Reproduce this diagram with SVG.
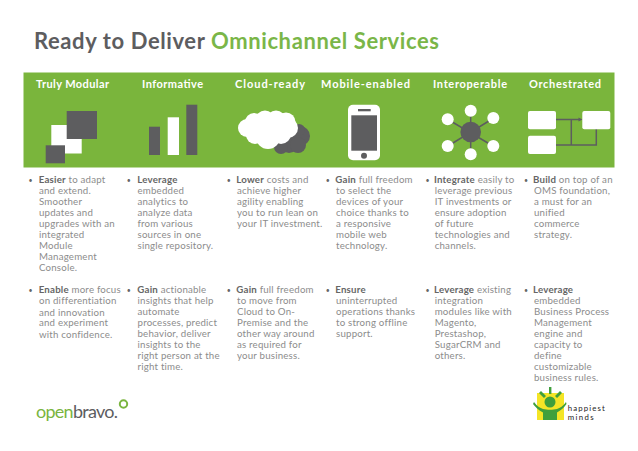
<svg xmlns="http://www.w3.org/2000/svg" width="638" height="451" viewBox="0 0 638 451">
<style>
text{font-family:"Lato","Liberation Sans",sans-serif}
.t{font-size:22px;font-weight:700}
.h{font-size:11px;font-weight:700;fill:#fff;text-anchor:middle}
.b{font-size:9.7px;fill:#8c8c8c;letter-spacing:.2px}
.b tspan{font-weight:700;fill:#666}
.u{font-size:7px;fill:#666}
.d{fill:#5d5d5f}.w{fill:#fff}
.l{stroke:#5d5d5f;stroke-width:1.5;fill:none}
</style>
<rect width="638" height="451" fill="#fff"/>
<text class="t" x="34" y="49.300" fill="#5d5d5f" textLength="405">Ready to Deliver <tspan fill="#7ab648">Omnichannel Services</tspan></text>
<rect id="band" x="23.500" y="72.500" width="591" height="95" fill="#7ab53c"/>
<g id="modular"><text class="h" x="72.500" y="87.500" textLength="73">Truly Modular</text><rect class="w" x="51.300" y="125" width="30.400" height="28.500"/><rect class="d" x="66.700" y="111" width="30.300" height="28"/><rect class="d" x="45.700" y="145.300" width="19.300" height="18"/></g>
<g id="informative"><text class="h" x="172.500" y="87.500" textLength="61">Informative</text><rect class="d" x="149" y="126.700" width="11" height="28.300"/><rect class="w" x="167.700" y="117.300" width="11.300" height="37.700"/><rect class="d" x="186.300" y="104.700" width="11" height="50.300"/></g>
<g id="cloud"><text class="h" x="270" y="87.500" textLength="70">Cloud-ready</text><g class="d"><circle cx="289" cy="143" r="10"/><circle cx="300" cy="136" r="10"/><circle cx="281" cy="147" r="7"/><circle cx="298" cy="145" r="8"/><circle cx="299" cy="130" r="6"/></g><g class="w"><circle cx="247" cy="128" r="9"/><circle cx="254" cy="122" r="9"/><circle cx="265" cy="120" r="9.500"/><circle cx="276" cy="120" r="9.500"/><circle cx="286" cy="122" r="9.500"/><circle cx="288" cy="128" r="10"/><circle cx="281" cy="134" r="10"/><circle cx="268" cy="137" r="12"/><circle cx="255" cy="135" r="9"/></g></g>
<g id="mobile"><text class="h" x="365.500" y="87.500" textLength="89">Mobile-enabled</text><rect class="w" x="348" y="104.700" width="32" height="55.600" rx="5"/><rect class="d" x="351.300" y="115.300" width="25.700" height="35.400"/><rect class="d" x="358" y="109" width="12.700" height="2.300"/><circle class="d" cx="364" cy="155.700" r="3"/></g>
<g id="interoperable"><text class="h" x="470" y="87.500" textLength="74">Interoperable</text><path class="l" d="M470.700 110V154M448 119.500L493 146M493 118.500L448 146"/><circle class="d" cx="470.700" cy="132" r="10.300"/><g class="w"><circle cx="470.700" cy="110.700" r="6"/><circle cx="470.700" cy="154.300" r="6"/><circle cx="447.700" cy="119.300" r="6"/><circle cx="493.300" cy="118" r="6"/><circle cx="447.700" cy="146" r="6"/><circle cx="493.300" cy="146" r="6"/></g></g>
<g id="orchestrated"><text class="h" x="565" y="87.500" textLength="72">Orchestrated</text><path class="l" d="M556 119.500H579M571.300 119.500V145M556 145H596.300V129"/><path class="d" d="M582.500 119.500l-4-2v4z"/><rect class="w" x="528" y="111" width="28" height="18.300" rx="2"/><rect class="w" x="528" y="135.700" width="28" height="18.300" rx="2"/><rect class="w" x="582.300" y="111" width="28" height="18.300" rx="2"/></g>
<g id="text-1">
<text class="u" x="28.400" y="183">•</text><text class="b" x="38.700" y="183"><tspan>Easier</tspan> to adapt</text><text class="b" x="39" y="194">and extend.</text><text class="b" x="39" y="205">Smoother</text><text class="b" x="39" y="216">updates and</text><text class="b" x="39" y="227">upgrades with an</text><text class="b" x="39" y="238">integrated</text><text class="b" x="39" y="249">Module</text><text class="b" x="39" y="260">Management</text><text class="b" x="39" y="271">Console.</text>
<text class="u" x="28.400" y="293">•</text><text class="b" x="38.700" y="293"><tspan>Enable</tspan> more focus</text><text class="b" x="39" y="304">on differentiation</text><text class="b" x="39" y="315.500">and innovation</text><text class="b" x="39" y="326">and experiment</text><text class="b" x="39" y="337.500">with confidence.</text>
</g>
<g id="text-2">
<text class="u" x="126.700" y="183">•</text><text class="b" x="137.300" y="183"><tspan>Leverage</tspan></text><text class="b" x="137.500" y="194">embedded</text><text class="b" x="137.500" y="205">analytics to</text><text class="b" x="137.500" y="216">analyze data</text><text class="b" x="137.500" y="227">from various</text><text class="b" x="137.500" y="238">sources in one</text><text class="b" x="137.500" y="249">single repository.</text>
<text class="u" x="126.700" y="293">•</text><text class="b" x="137.300" y="293"><tspan>Gain</tspan> actionable</text><text class="b" x="137.500" y="304">insights that help</text><text class="b" x="137.500" y="315">automate</text><text class="b" x="137.500" y="326">processes, predict</text><text class="b" x="137.500" y="337">behavior, deliver</text><text class="b" x="137.500" y="348">insights to the</text><text class="b" x="137.500" y="359">right person at the</text><text class="b" x="137.500" y="369.500">right time.</text>
</g>
<g id="text-3">
<text class="u" x="226.700" y="183">•</text><text class="b" x="236.300" y="183"><tspan>Lower</tspan> costs and</text><text class="b" x="237" y="194">achieve higher</text><text class="b" x="237" y="205">agility enabling</text><text class="b" x="237" y="216">you to run lean on</text><text class="b" x="237" y="227">your IT investment.</text>
<text class="u" x="226.700" y="293">•</text><text class="b" x="236.300" y="293"><tspan>Gain</tspan> full freedom</text><text class="b" x="237" y="304">to move from</text><text class="b" x="237" y="315">Cloud to On-</text><text class="b" x="237" y="326">Premise and the</text><text class="b" x="237" y="337">other way around</text><text class="b" x="237" y="348">as required for</text><text class="b" x="237" y="359">your business.</text>
</g>
<g id="text-4">
<text class="u" x="325.700" y="183">•</text><text class="b" x="335.300" y="183"><tspan>Gain</tspan> full freedom</text><text class="b" x="336" y="194">to select the</text><text class="b" x="336" y="205">devices of your</text><text class="b" x="336" y="216">choice thanks to</text><text class="b" x="336" y="227">a responsive</text><text class="b" x="336" y="238">mobile web</text><text class="b" x="336" y="249">technology.</text>
<text class="u" x="325.700" y="293">•</text><text class="b" x="335.300" y="293"><tspan>Ensure</tspan></text><text class="b" x="336" y="304">uninterrupted</text><text class="b" x="336" y="315">operations thanks</text><text class="b" x="336" y="326">to strong offline</text><text class="b" x="336" y="337">support.</text>
</g>
<g id="text-5">
<text class="u" x="425.400" y="183">•</text><text class="b" x="434" y="183"><tspan>Integrate</tspan> easily to</text><text class="b" x="434.700" y="194">leverage previous</text><text class="b" x="434.700" y="205">IT investments or</text><text class="b" x="434.700" y="216">ensure adoption</text><text class="b" x="434.700" y="227">of future</text><text class="b" x="434.700" y="238">technologies and</text><text class="b" x="434.700" y="249">channels.</text>
<text class="u" x="425.400" y="293">•</text><text class="b" x="434" y="293"><tspan>Leverage</tspan> existing</text><text class="b" x="434.700" y="304">integration</text><text class="b" x="434.700" y="315">modules like with</text><text class="b" x="434.700" y="326">Magento,</text><text class="b" x="434.700" y="337">Prestashop,</text><text class="b" x="434.700" y="348">SugarCRM and</text><text class="b" x="434.700" y="359">others.</text>
</g>
<g id="text-6">
<text class="u" x="524" y="183">•</text><text class="b" x="533" y="183"><tspan>Build</tspan> on top of an</text><text class="b" x="534" y="194">OMS foundation,</text><text class="b" x="534" y="205">a must for an</text><text class="b" x="534" y="216">unified</text><text class="b" x="534" y="227">commerce</text><text class="b" x="534" y="238">strategy.</text>
<text class="u" x="524" y="293">•</text><text class="b" x="533" y="293"><tspan>Leverage</tspan></text><text class="b" x="534" y="304">embedded</text><text class="b" x="534" y="315">Business Process</text><text class="b" x="534" y="326">Management</text><text class="b" x="534" y="337">engine and</text><text class="b" x="534" y="348">capacity to</text><text class="b" x="534" y="359">define</text><text class="b" x="534" y="370">customizable</text><text class="b" x="534" y="381">business rules.</text>
</g>
<g id="openbravo-logo"><text x="36" y="418" font-size="18" textLength="82" fill="#7ab53f">open<tspan fill="#5d5d5f">bravo.</tspan></text><circle cx="123.500" cy="404" r="3.700" fill="none" stroke="#7ab53f" stroke-width="2"/></g>
<g id="happiest-logo"><rect x="537" y="393" width="27" height="27" fill="#f4e526"/><g fill="#3f9f3c"><rect x="549" y="387" width="2.400" height="7"/><path d="M539 393l2-2 5 5-2 2zM560 391l2 2-5 5-2-2z"/><circle cx="550" cy="402" r="5.500"/><path d="M534 402c3 4 6 6 9 7 4 1 10 1 14 0 3-1 6-3 9-7l.5 2c-2 3-5 6-9.500 8.500V420h-14v-7.500c-5-2.500-8-6-10-8.500z"/></g><text x="567.700" y="410.500" font-size="7.800" textLength="37" fill="#222">happiest</text><text x="567.700" y="420.200" font-size="7.800" textLength="26" fill="#222">minds</text></g>
</svg>
